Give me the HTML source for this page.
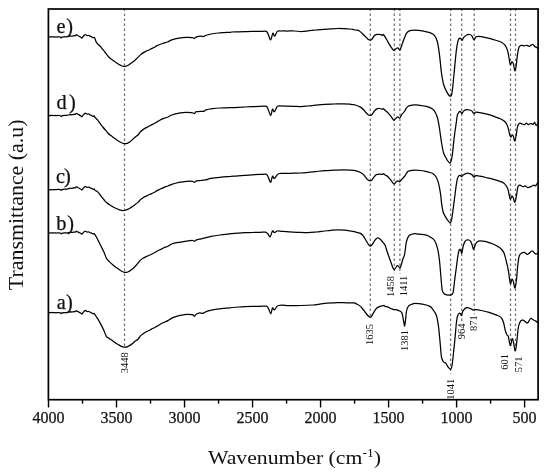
<!DOCTYPE html>
<html><head><meta charset="utf-8"><title>FTIR spectra</title>
<style>
html,body{margin:0;padding:0;background:#fff;}
body{width:550px;height:476px;overflow:hidden;}
svg{display:block;}
text{font-family:"Liberation Serif","Times New Roman",serif;fill:#111;stroke:#111;stroke-width:0.25px;}
text.pk{stroke:none;}
</style></head><body>
<svg width="550" height="476" viewBox="0 0 550 476">
<rect width="550" height="476" fill="#fff"/>
<g stroke="#707070" stroke-width="1.25" stroke-dasharray="2.5 2.5" fill="none">
<line x1="124.5" y1="8.4" x2="124.5" y2="347.5"/>
<line x1="370.3" y1="8.4" x2="370.3" y2="317.0"/>
<line x1="394.3" y1="8.4" x2="394.3" y2="274.0"/>
<line x1="399.9" y1="8.4" x2="399.9" y2="274.0"/>
<line x1="450.6" y1="8.4" x2="450.6" y2="374.0"/>
<line x1="461.7" y1="8.4" x2="461.7" y2="321.0"/>
<line x1="474.2" y1="8.4" x2="474.2" y2="314.5"/>
<line x1="510.5" y1="8.4" x2="510.5" y2="349.0"/>
<line x1="515.5" y1="8.4" x2="515.5" y2="352.5"/>
</g>
<g fill="none" stroke="#000" stroke-width="1.25" stroke-linejoin="round" stroke-linecap="round">
<path d="M48.50,36.90 C48.78,36.92 49.68,37.03 50.20,37.00 C50.72,36.97 51.13,36.70 51.60,36.70 C52.07,36.70 52.52,36.98 53.00,37.00 C53.48,37.02 54.00,36.79 54.50,36.80 C55.00,36.81 55.50,37.04 56.00,37.05 C56.50,37.06 56.95,36.88 57.50,36.85 C58.05,36.83 58.80,36.84 59.30,36.90 C59.80,36.96 60.17,37.03 60.50,37.20 C60.83,37.37 61.00,37.95 61.30,37.90 C61.60,37.85 61.93,37.05 62.30,36.90 C62.67,36.75 63.08,37.03 63.50,37.00 C63.92,36.97 64.38,36.72 64.80,36.70 C65.22,36.68 65.60,36.92 66.00,36.90 C66.40,36.88 66.78,36.68 67.20,36.60 C67.62,36.52 68.13,36.45 68.50,36.40 C68.87,36.35 69.10,36.38 69.40,36.30 C69.70,36.22 69.98,35.92 70.30,35.90 C70.62,35.88 70.98,36.18 71.30,36.20 C71.62,36.22 71.90,36.02 72.20,36.00 C72.50,35.98 72.80,36.17 73.10,36.10 C73.40,36.03 73.63,35.65 74.00,35.60 C74.37,35.55 74.92,35.95 75.30,35.80 C75.68,35.65 75.97,34.78 76.30,34.70 C76.63,34.62 76.98,35.13 77.30,35.30 C77.62,35.47 77.88,35.53 78.20,35.70 C78.52,35.87 78.88,36.12 79.20,36.30 C79.52,36.48 79.80,36.62 80.10,36.80 C80.40,36.98 80.70,37.18 81.00,37.40 C81.30,37.62 81.62,38.15 81.90,38.10 C82.18,38.05 82.43,37.45 82.70,37.10 C82.97,36.75 83.20,36.33 83.50,36.00 C83.80,35.67 84.18,35.35 84.50,35.10 C84.82,34.85 85.08,34.48 85.40,34.50 C85.72,34.52 86.07,35.02 86.40,35.20 C86.73,35.38 87.10,35.57 87.40,35.60 C87.70,35.63 87.93,35.42 88.20,35.40 C88.47,35.38 88.72,35.38 89.00,35.50 C89.28,35.62 89.62,35.93 89.90,36.10 C90.18,36.27 90.45,36.38 90.70,36.50 C90.95,36.62 91.18,36.68 91.40,36.80 C91.62,36.92 91.80,37.08 92.00,37.20 C92.20,37.32 92.40,37.38 92.60,37.50 C92.80,37.62 92.95,37.93 93.20,37.90 C93.45,37.87 93.78,37.13 94.10,37.30 C94.42,37.47 94.75,38.12 95.10,38.90 C95.45,39.68 95.72,41.12 96.20,42.00 C96.68,42.88 97.28,43.45 98.00,44.20 C98.72,44.95 99.75,45.67 100.50,46.50 C101.25,47.33 101.77,48.28 102.50,49.20 C103.23,50.12 103.95,50.80 104.90,52.00 C105.85,53.20 107.22,55.27 108.20,56.40 C109.18,57.53 109.90,58.08 110.80,58.80 C111.70,59.52 112.68,60.05 113.60,60.70 C114.52,61.35 115.38,62.07 116.30,62.70 C117.22,63.33 118.23,64.00 119.10,64.50 C119.97,65.00 120.77,65.38 121.50,65.70 C122.23,66.02 122.88,66.28 123.50,66.40 C124.12,66.52 124.67,66.47 125.20,66.40 C125.73,66.33 125.98,66.32 126.70,66.00 C127.42,65.68 128.58,65.10 129.50,64.50 C130.42,63.90 131.28,63.12 132.20,62.40 C133.12,61.68 134.03,61.03 135.00,60.20 C135.97,59.37 137.05,58.33 138.00,57.40 C138.95,56.47 139.78,55.40 140.70,54.60 C141.62,53.80 142.58,53.18 143.50,52.60 C144.42,52.02 145.30,51.53 146.20,51.10 C147.10,50.67 148.00,50.42 148.90,50.00 C149.80,49.58 150.68,49.05 151.60,48.60 C152.52,48.15 153.48,47.80 154.40,47.30 C155.32,46.80 156.20,46.07 157.10,45.60 C158.00,45.13 158.90,44.85 159.80,44.50 C160.70,44.15 161.58,43.82 162.50,43.50 C163.42,43.18 164.38,42.88 165.30,42.60 C166.22,42.32 166.92,42.27 168.00,41.80 C169.08,41.33 169.95,40.42 171.80,39.80 C173.65,39.18 176.67,38.52 179.10,38.10 C181.53,37.68 184.22,37.38 186.40,37.30 C188.58,37.22 191.03,37.48 192.20,37.60 C193.37,37.72 193.03,37.85 193.40,38.00 C193.77,38.15 194.05,38.58 194.40,38.50 C194.75,38.42 195.15,37.77 195.50,37.50 C195.85,37.23 195.72,37.12 196.50,36.90 C197.28,36.68 198.98,36.27 200.20,36.20 C201.42,36.13 202.95,36.62 203.80,36.50 C204.65,36.38 204.08,35.92 205.30,35.50 C206.52,35.08 208.92,34.42 211.10,34.00 C213.28,33.58 216.25,33.23 218.40,33.00 C220.55,32.77 222.07,32.72 224.00,32.60 C225.93,32.48 228.73,32.40 230.00,32.30 C231.27,32.20 230.27,32.08 231.60,32.00 C232.93,31.92 235.82,31.87 238.00,31.80 C240.18,31.73 242.37,31.67 244.70,31.60 C247.03,31.53 249.45,31.43 252.00,31.40 C254.55,31.37 257.60,31.40 260.00,31.40 C262.40,31.40 264.98,30.78 266.40,31.40 C267.82,32.02 267.78,33.68 268.50,35.10 C269.22,36.52 269.97,40.20 270.70,39.90 C271.43,39.60 272.23,33.92 272.90,33.30 C273.57,32.68 273.97,36.52 274.70,36.20 C275.43,35.88 276.33,32.27 277.30,31.40 C278.27,30.53 278.88,31.07 280.50,31.00 C282.12,30.93 284.67,31.00 287.00,31.00 C289.33,31.00 292.03,30.92 294.50,31.00 C296.97,31.08 299.37,31.55 301.80,31.50 C304.23,31.45 306.73,30.95 309.10,30.70 C311.47,30.45 313.58,30.23 316.00,30.00 C318.42,29.77 321.10,29.50 323.60,29.30 C326.10,29.10 328.57,28.93 331.00,28.80 C333.43,28.67 336.03,28.52 338.20,28.50 C340.37,28.48 342.07,28.62 344.00,28.70 C345.93,28.78 348.30,28.88 349.80,29.00 C351.30,29.12 352.03,29.23 353.00,29.40 C353.97,29.57 354.58,29.78 355.60,30.00 C356.62,30.22 357.38,29.52 359.10,30.70 C360.82,31.88 364.40,35.67 365.90,37.10 C367.40,38.53 367.37,38.80 368.10,39.30 C368.83,39.80 369.67,40.10 370.30,40.10 C370.93,40.10 371.27,39.98 371.90,39.30 C372.53,38.62 373.28,36.82 374.10,36.00 C374.92,35.18 375.68,34.63 376.80,34.40 C377.92,34.17 379.82,34.42 380.80,34.60 C381.78,34.78 382.23,35.50 382.70,35.50 C383.17,35.50 382.97,33.97 383.60,34.60 C384.23,35.23 385.38,37.42 386.50,39.30 C387.62,41.18 389.10,44.07 390.30,45.90 C391.50,47.73 392.77,49.82 393.70,50.30 C394.63,50.78 395.22,49.22 395.90,48.80 C396.58,48.38 397.10,47.65 397.80,47.80 C398.50,47.95 399.32,50.48 400.10,49.70 C400.88,48.92 401.47,45.78 402.50,43.10 C403.53,40.42 405.18,35.65 406.30,33.60 C407.42,31.55 407.78,31.40 409.20,30.80 C410.62,30.20 412.60,30.00 414.80,30.00 C417.00,30.00 419.87,30.35 422.40,30.80 C424.93,31.25 428.03,31.97 430.00,32.70 C431.97,33.43 432.98,33.73 434.20,35.20 C435.42,36.67 436.43,38.35 437.30,41.50 C438.17,44.65 438.70,48.85 439.40,54.10 C440.10,59.35 440.80,67.93 441.50,73.00 C442.20,78.07 442.72,81.35 443.60,84.50 C444.48,87.65 445.75,89.97 446.80,91.90 C447.85,93.83 449.03,95.93 449.90,96.10 C450.77,96.27 451.30,96.75 452.00,92.90 C452.70,89.05 453.35,80.28 454.10,73.00 C454.85,65.72 455.83,54.58 456.50,49.20 C457.17,43.82 457.58,42.55 458.10,40.70 C458.62,38.85 459.08,38.37 459.60,38.10 C460.12,37.83 460.75,38.75 461.20,39.10 C461.65,39.45 461.92,40.45 462.30,40.20 C462.68,39.95 462.78,38.47 463.50,37.60 C464.22,36.73 465.57,35.52 466.60,35.00 C467.63,34.48 468.85,34.40 469.70,34.50 C470.55,34.60 471.00,34.75 471.70,35.60 C472.40,36.45 473.20,39.35 473.90,39.60 C474.60,39.85 475.18,37.63 475.90,37.10 C476.62,36.57 476.53,36.32 478.20,36.40 C479.87,36.48 483.33,37.07 485.90,37.60 C488.47,38.13 491.02,38.83 493.60,39.60 C496.18,40.37 499.47,41.25 501.40,42.20 C503.33,43.15 504.17,43.88 505.20,45.30 C506.23,46.72 506.95,48.50 507.60,50.70 C508.25,52.90 508.65,56.18 509.10,58.50 C509.55,60.82 509.83,64.03 510.30,64.60 C510.77,65.17 511.38,62.02 511.90,61.90 C512.42,61.78 512.92,62.42 513.40,63.90 C513.88,65.38 514.35,70.42 514.80,70.80 C515.25,71.18 515.63,69.03 516.10,66.20 C516.57,63.37 517.10,57.02 517.60,53.80 C518.10,50.58 518.45,48.32 519.10,46.90 C519.75,45.48 520.58,45.48 521.50,45.30 C522.42,45.12 523.70,45.80 524.60,45.80 C525.50,45.80 526.13,45.20 526.90,45.30 C527.67,45.40 528.43,46.47 529.20,46.40 C529.97,46.33 530.85,45.22 531.50,44.90 C532.15,44.58 532.58,44.25 533.10,44.50 C533.62,44.75 533.97,45.88 534.60,46.40 C535.23,46.92 536.28,47.23 536.90,47.60 C537.52,47.97 538.07,48.43 538.30,48.60"/>
<path d="M48.50,115.50 C48.78,115.52 49.68,115.63 50.20,115.60 C50.72,115.57 51.13,115.30 51.60,115.30 C52.07,115.30 52.52,115.58 53.00,115.60 C53.48,115.62 54.00,115.39 54.50,115.40 C55.00,115.41 55.50,115.64 56.00,115.65 C56.50,115.66 56.95,115.48 57.50,115.45 C58.05,115.42 58.80,115.44 59.30,115.50 C59.80,115.56 60.17,115.63 60.50,115.80 C60.83,115.97 61.00,116.55 61.30,116.50 C61.60,116.45 61.93,115.65 62.30,115.50 C62.67,115.35 63.08,115.63 63.50,115.60 C63.92,115.57 64.38,115.32 64.80,115.30 C65.22,115.28 65.60,115.52 66.00,115.50 C66.40,115.48 66.78,115.28 67.20,115.20 C67.62,115.12 68.13,115.05 68.50,115.00 C68.87,114.95 69.10,114.98 69.40,114.90 C69.70,114.82 69.98,114.52 70.30,114.50 C70.62,114.48 70.98,114.78 71.30,114.80 C71.62,114.82 71.90,114.62 72.20,114.60 C72.50,114.58 72.80,114.77 73.10,114.70 C73.40,114.63 73.63,114.25 74.00,114.20 C74.37,114.15 74.92,114.55 75.30,114.40 C75.68,114.25 75.97,113.38 76.30,113.30 C76.63,113.22 76.98,113.73 77.30,113.90 C77.62,114.07 77.88,114.13 78.20,114.30 C78.52,114.47 78.88,114.72 79.20,114.90 C79.52,115.08 79.80,115.22 80.10,115.40 C80.40,115.58 80.70,115.78 81.00,116.00 C81.30,116.22 81.62,116.75 81.90,116.70 C82.18,116.65 82.43,116.05 82.70,115.70 C82.97,115.35 83.20,114.93 83.50,114.60 C83.80,114.27 84.18,113.95 84.50,113.70 C84.82,113.45 85.08,113.08 85.40,113.10 C85.72,113.12 86.07,113.62 86.40,113.80 C86.73,113.98 87.10,114.17 87.40,114.20 C87.70,114.23 87.93,114.02 88.20,114.00 C88.47,113.98 88.72,113.98 89.00,114.10 C89.28,114.22 89.62,114.53 89.90,114.70 C90.18,114.87 90.45,114.98 90.70,115.10 C90.95,115.22 91.18,115.28 91.40,115.40 C91.62,115.52 91.80,115.68 92.00,115.80 C92.20,115.92 92.40,115.98 92.60,116.10 C92.80,116.22 92.95,116.53 93.20,116.50 C93.45,116.47 93.78,115.73 94.10,115.90 C94.42,116.07 94.57,116.88 95.10,117.50 C95.63,118.12 96.40,118.52 97.30,119.60 C98.20,120.68 99.60,122.80 100.50,124.00 C101.40,125.20 101.97,125.88 102.70,126.80 C103.43,127.72 103.98,128.42 104.90,129.50 C105.82,130.58 107.20,132.28 108.20,133.30 C109.20,134.32 110.00,134.88 110.90,135.60 C111.80,136.32 112.70,136.93 113.60,137.60 C114.50,138.27 115.38,138.95 116.30,139.60 C117.22,140.25 118.23,140.97 119.10,141.50 C119.97,142.03 120.68,142.45 121.50,142.80 C122.32,143.15 123.25,143.47 124.00,143.60 C124.75,143.73 125.37,143.68 126.00,143.60 C126.63,143.52 127.13,143.42 127.80,143.10 C128.47,142.78 129.27,142.25 130.00,141.70 C130.73,141.15 131.37,140.55 132.20,139.80 C133.03,139.05 134.03,138.00 135.00,137.20 C135.97,136.40 137.05,135.95 138.00,135.00 C138.95,134.05 139.78,132.45 140.70,131.50 C141.62,130.55 142.58,129.95 143.50,129.30 C144.42,128.65 145.30,128.10 146.20,127.60 C147.10,127.10 148.00,126.75 148.90,126.30 C149.80,125.85 150.68,125.37 151.60,124.90 C152.52,124.43 153.48,124.00 154.40,123.50 C155.32,123.00 156.20,122.43 157.10,121.90 C158.00,121.37 158.90,120.80 159.80,120.30 C160.70,119.80 161.58,119.32 162.50,118.90 C163.42,118.48 164.38,118.12 165.30,117.80 C166.22,117.48 166.92,117.47 168.00,117.00 C169.08,116.53 169.95,115.65 171.80,115.00 C173.65,114.35 176.67,113.53 179.10,113.10 C181.53,112.67 184.22,112.45 186.40,112.40 C188.58,112.35 191.03,112.68 192.20,112.80 C193.37,112.92 193.03,112.97 193.40,113.10 C193.77,113.23 194.05,113.72 194.40,113.60 C194.75,113.48 195.15,112.73 195.50,112.40 C195.85,112.07 195.60,111.78 196.50,111.60 C197.40,111.42 199.68,111.35 200.90,111.30 C202.12,111.25 202.95,111.53 203.80,111.30 C204.65,111.07 204.55,110.33 206.00,109.90 C207.45,109.47 210.20,109.02 212.50,108.70 C214.80,108.38 216.88,108.18 219.80,108.00 C222.72,107.82 228.03,107.65 230.00,107.60 C231.97,107.55 230.27,107.75 231.60,107.70 C232.93,107.65 235.82,107.42 238.00,107.30 C240.18,107.18 242.37,107.10 244.70,107.00 C247.03,106.90 249.45,106.80 252.00,106.70 C254.55,106.60 257.60,106.45 260.00,106.40 C262.40,106.35 264.98,105.75 266.40,106.40 C267.82,107.05 267.78,108.75 268.50,110.30 C269.22,111.85 270.03,115.88 270.70,115.70 C271.37,115.52 271.88,109.85 272.50,109.20 C273.12,108.55 273.60,112.27 274.40,111.80 C275.20,111.33 276.20,107.37 277.30,106.40 C278.40,105.43 279.38,106.03 281.00,106.00 C282.62,105.97 284.90,106.13 287.00,106.20 C289.10,106.27 291.28,106.33 293.60,106.40 C295.92,106.47 298.50,106.67 300.90,106.60 C303.30,106.53 305.57,106.23 308.00,106.00 C310.43,105.77 312.73,105.48 315.50,105.20 C318.27,104.92 321.52,104.50 324.60,104.30 C327.68,104.10 330.85,104.08 334.00,104.00 C337.15,103.92 340.83,103.77 343.50,103.80 C346.17,103.83 348.03,104.00 350.00,104.20 C351.97,104.40 353.55,104.52 355.30,105.00 C357.05,105.48 359.10,106.30 360.50,107.10 C361.90,107.90 362.80,108.90 363.70,109.80 C364.60,110.70 365.17,111.68 365.90,112.50 C366.63,113.32 367.37,114.23 368.10,114.70 C368.83,115.17 369.67,115.30 370.30,115.30 C370.93,115.30 371.27,115.33 371.90,114.70 C372.53,114.07 373.28,112.47 374.10,111.50 C374.92,110.53 375.80,109.40 376.80,108.90 C377.80,108.40 379.18,108.43 380.10,108.50 C381.02,108.57 381.75,109.30 382.30,109.30 C382.85,109.30 383.03,108.42 383.40,108.50 C383.77,108.58 383.78,109.13 384.50,109.80 C385.22,110.47 386.62,111.40 387.70,112.50 C388.78,113.60 390.00,115.12 391.00,116.40 C392.00,117.68 392.97,119.80 393.70,120.20 C394.43,120.60 394.77,119.35 395.40,118.80 C396.03,118.25 396.87,117.03 397.50,116.90 C398.13,116.77 398.73,117.90 399.20,118.00 C399.67,118.10 399.85,118.13 400.30,117.50 C400.75,116.87 401.27,115.12 401.90,114.20 C402.53,113.28 403.37,113.00 404.10,112.00 C404.83,111.00 405.57,109.20 406.30,108.20 C407.03,107.20 407.60,106.50 408.50,106.00 C409.40,105.50 410.62,105.38 411.70,105.20 C412.78,105.02 413.85,104.92 415.00,104.90 C416.15,104.88 417.10,104.92 418.60,105.10 C420.10,105.28 422.10,105.58 424.00,106.00 C425.90,106.42 428.30,106.83 430.00,107.60 C431.70,108.37 432.98,108.98 434.20,110.60 C435.42,112.22 436.43,114.43 437.30,117.30 C438.17,120.17 438.70,123.60 439.40,127.80 C440.10,132.00 440.80,138.30 441.50,142.50 C442.20,146.70 442.72,150.20 443.60,153.00 C444.48,155.80 445.75,157.63 446.80,159.30 C447.85,160.97 449.03,163.35 449.90,163.00 C450.77,162.65 451.30,161.32 452.00,157.20 C452.70,153.08 453.40,143.97 454.10,138.30 C454.80,132.63 455.67,127.00 456.20,123.20 C456.73,119.40 456.85,117.35 457.30,115.50 C457.75,113.65 458.38,112.75 458.90,112.10 C459.42,111.45 459.88,111.35 460.40,111.60 C460.92,111.85 461.48,113.68 462.00,113.60 C462.52,113.52 462.73,111.77 463.50,111.10 C464.27,110.43 465.57,109.78 466.60,109.60 C467.63,109.42 468.80,109.75 469.70,110.00 C470.60,110.25 471.30,110.50 472.00,111.10 C472.70,111.70 473.25,113.43 473.90,113.60 C474.55,113.77 474.93,112.25 475.90,112.10 C476.87,111.95 478.03,112.40 479.70,112.70 C481.37,113.00 483.58,113.32 485.90,113.90 C488.22,114.48 491.02,115.30 493.60,116.20 C496.18,117.10 499.33,118.18 501.40,119.30 C503.47,120.42 504.85,121.35 506.00,122.90 C507.15,124.45 507.65,126.50 508.30,128.60 C508.95,130.70 509.45,134.08 509.90,135.50 C510.35,136.92 510.62,137.22 511.00,137.10 C511.38,136.98 511.80,134.93 512.20,134.80 C512.60,134.67 512.97,135.27 513.40,136.30 C513.83,137.33 514.30,141.38 514.80,141.00 C515.30,140.62 515.93,136.45 516.40,134.00 C516.87,131.55 517.07,128.10 517.60,126.30 C518.13,124.50 518.83,123.58 519.60,123.20 C520.37,122.82 521.37,123.75 522.20,124.00 C523.03,124.25 523.90,124.83 524.60,124.70 C525.30,124.57 525.77,123.20 526.40,123.20 C527.03,123.20 527.68,124.65 528.40,124.70 C529.12,124.75 529.92,123.55 530.70,123.50 C531.48,123.45 532.45,124.58 533.10,124.40 C533.75,124.22 534.10,122.22 534.60,122.40 C535.10,122.58 535.55,125.37 536.10,125.50 C536.65,125.63 537.60,123.58 537.90,123.20"/>
<path d="M48.50,189.80 C48.78,189.81 49.68,189.90 50.20,189.85 C50.72,189.80 51.13,189.52 51.60,189.51 C52.07,189.49 52.52,189.76 53.00,189.76 C53.48,189.77 54.00,189.53 54.50,189.52 C55.00,189.51 55.50,189.73 56.00,189.72 C56.50,189.72 56.95,189.52 57.50,189.48 C58.05,189.44 58.80,189.43 59.30,189.47 C59.80,189.52 60.17,189.58 60.50,189.74 C60.83,189.90 61.00,190.47 61.30,190.41 C61.60,190.36 61.93,189.55 62.30,189.38 C62.67,189.22 63.08,189.49 63.50,189.45 C63.92,189.40 64.38,189.14 64.80,189.11 C65.22,189.08 65.60,189.30 66.00,189.27 C66.40,189.24 66.78,189.03 67.20,188.94 C67.62,188.84 68.13,188.76 68.50,188.70 C68.87,188.64 69.10,188.66 69.40,188.57 C69.70,188.48 69.98,188.17 70.30,188.14 C70.62,188.12 70.98,188.41 71.30,188.41 C71.62,188.42 71.90,188.21 72.20,188.19 C72.50,188.16 72.80,188.34 73.10,188.26 C73.40,188.18 73.63,187.79 74.00,187.73 C74.37,187.67 74.92,188.05 75.30,187.89 C75.68,187.73 75.97,186.86 76.30,186.76 C76.63,186.67 76.98,187.18 77.30,187.33 C77.62,187.49 77.88,187.55 78.20,187.71 C78.52,187.86 78.88,188.10 79.20,188.28 C79.52,188.45 79.80,188.57 80.10,188.75 C80.40,188.92 80.70,189.11 81.00,189.32 C81.30,189.53 81.62,190.05 81.90,189.99 C82.18,189.94 82.43,189.33 82.70,188.97 C82.97,188.61 83.20,188.19 83.50,187.85 C83.80,187.50 84.18,187.18 84.50,186.92 C84.82,186.66 85.08,186.28 85.40,186.29 C85.72,186.30 86.07,186.79 86.40,186.96 C86.73,187.13 87.10,187.30 87.40,187.33 C87.70,187.35 87.93,187.13 88.20,187.10 C88.47,187.08 88.72,187.07 89.00,187.18 C89.28,187.29 89.62,187.60 89.90,187.75 C90.18,187.91 90.45,188.02 90.70,188.13 C90.95,188.24 91.18,188.30 91.40,188.41 C91.62,188.52 91.80,188.68 92.00,188.79 C92.20,188.90 92.40,188.96 92.60,189.07 C92.80,189.18 92.95,189.50 93.20,189.45 C93.45,189.41 93.78,188.67 94.10,188.83 C94.42,188.98 94.63,189.98 95.10,190.40 C95.57,190.81 96.35,190.92 96.90,191.30 C97.45,191.68 97.67,191.85 98.40,192.70 C99.13,193.55 100.33,195.18 101.30,196.40 C102.27,197.62 103.23,198.88 104.20,200.00 C105.17,201.12 106.02,202.18 107.10,203.10 C108.18,204.02 109.37,204.68 110.70,205.50 C112.03,206.32 113.63,207.28 115.10,208.00 C116.57,208.72 118.05,209.38 119.50,209.80 C120.95,210.22 122.35,210.62 123.80,210.50 C125.25,210.38 127.00,209.62 128.20,209.10 C129.40,208.58 130.03,208.02 131.00,207.40 C131.97,206.78 132.83,206.23 134.00,205.40 C135.17,204.57 136.88,203.40 138.00,202.40 C139.12,201.40 139.78,200.22 140.70,199.40 C141.62,198.58 142.58,198.05 143.50,197.50 C144.42,196.95 145.30,196.55 146.20,196.10 C147.10,195.65 148.00,195.22 148.90,194.80 C149.80,194.38 150.68,194.02 151.60,193.60 C152.52,193.18 153.48,192.80 154.40,192.30 C155.32,191.80 156.20,191.10 157.10,190.60 C158.00,190.10 158.90,189.72 159.80,189.30 C160.70,188.88 161.58,188.52 162.50,188.10 C163.42,187.68 164.38,187.15 165.30,186.80 C166.22,186.45 166.92,186.42 168.00,186.00 C169.08,185.58 169.95,184.90 171.80,184.30 C173.65,183.70 176.67,182.90 179.10,182.40 C181.53,181.90 184.22,181.48 186.40,181.30 C188.58,181.12 191.03,181.22 192.20,181.30 C193.37,181.38 193.03,181.62 193.40,181.80 C193.77,181.98 194.05,182.45 194.40,182.40 C194.75,182.35 195.15,181.75 195.50,181.50 C195.85,181.25 195.60,181.07 196.50,180.90 C197.40,180.73 199.43,180.67 200.90,180.50 C202.37,180.33 203.60,180.25 205.30,179.90 C207.00,179.55 208.68,178.83 211.10,178.40 C213.52,177.97 216.65,177.62 219.80,177.30 C222.95,176.98 228.03,176.65 230.00,176.50 C231.97,176.35 230.27,176.52 231.60,176.40 C232.93,176.28 235.82,175.98 238.00,175.80 C240.18,175.62 242.37,175.47 244.70,175.30 C247.03,175.13 249.45,174.95 252.00,174.80 C254.55,174.65 257.60,174.47 260.00,174.40 C262.40,174.33 264.98,173.82 266.40,174.40 C267.82,174.98 267.78,176.58 268.50,177.90 C269.22,179.22 270.03,182.58 270.70,182.30 C271.37,182.02 271.88,176.85 272.50,176.20 C273.12,175.55 273.40,178.82 274.40,178.40 C275.40,177.98 276.73,174.53 278.50,173.70 C280.27,172.87 282.48,173.48 285.00,173.40 C287.52,173.32 290.95,173.27 293.60,173.20 C296.25,173.13 298.50,173.13 300.90,173.00 C303.30,172.87 305.57,172.63 308.00,172.40 C310.43,172.17 312.73,171.90 315.50,171.60 C318.27,171.30 321.52,170.83 324.60,170.60 C327.68,170.37 330.85,170.32 334.00,170.20 C337.15,170.08 340.83,169.92 343.50,169.90 C346.17,169.88 348.03,169.98 350.00,170.10 C351.97,170.22 353.55,170.20 355.30,170.60 C357.05,171.00 359.18,171.87 360.50,172.50 C361.82,173.13 362.30,173.55 363.20,174.40 C364.10,175.25 365.08,176.65 365.90,177.60 C366.72,178.55 367.37,179.55 368.10,180.10 C368.83,180.65 369.67,180.90 370.30,180.90 C370.93,180.90 371.27,180.77 371.90,180.10 C372.53,179.43 373.37,177.82 374.10,176.90 C374.83,175.98 375.30,175.07 376.30,174.60 C377.30,174.13 379.10,174.13 380.10,174.10 C381.10,174.07 381.72,174.48 382.30,174.40 C382.88,174.32 383.15,173.52 383.60,173.60 C384.05,173.68 384.32,174.42 385.00,174.90 C385.68,175.38 386.70,175.58 387.70,176.50 C388.70,177.42 389.93,179.15 391.00,180.40 C392.07,181.65 393.28,183.73 394.10,184.00 C394.92,184.27 395.23,182.52 395.90,182.00 C396.57,181.48 397.47,180.95 398.10,180.90 C398.73,180.85 398.90,182.15 399.70,181.70 C400.50,181.25 402.00,179.22 402.90,178.20 C403.80,177.18 404.37,176.63 405.10,175.60 C405.83,174.57 406.57,172.78 407.30,172.00 C408.03,171.22 408.30,171.20 409.50,170.90 C410.70,170.60 412.68,170.27 414.50,170.20 C416.32,170.13 418.57,170.32 420.40,170.50 C422.23,170.68 423.90,170.97 425.50,171.30 C427.10,171.63 428.68,172.07 430.00,172.50 C431.32,172.93 432.37,173.10 433.40,173.90 C434.43,174.70 435.40,175.93 436.20,177.30 C437.00,178.67 437.63,180.27 438.20,182.10 C438.77,183.93 439.18,186.13 439.60,188.30 C440.02,190.47 440.37,192.60 440.70,195.10 C441.03,197.60 441.22,200.57 441.60,203.30 C441.98,206.03 442.53,209.57 443.00,211.50 C443.47,213.43 443.83,213.75 444.40,214.90 C444.97,216.05 445.72,217.37 446.40,218.40 C447.08,219.43 447.87,220.32 448.50,221.10 C449.13,221.88 449.68,223.33 450.20,223.10 C450.72,222.87 451.13,221.87 451.60,219.70 C452.07,217.53 452.50,213.75 453.00,210.10 C453.50,206.45 454.10,201.67 454.60,197.80 C455.10,193.93 455.53,190.08 456.00,186.90 C456.47,183.72 456.95,180.53 457.40,178.70 C457.85,176.87 458.25,176.47 458.70,175.90 C459.15,175.33 459.63,175.18 460.10,175.30 C460.57,175.42 460.93,176.70 461.50,176.60 C462.07,176.50 462.65,175.25 463.50,174.70 C464.35,174.15 465.57,173.48 466.60,173.30 C467.63,173.12 468.80,173.37 469.70,173.60 C470.60,173.83 471.30,174.12 472.00,174.70 C472.70,175.28 473.25,176.95 473.90,177.10 C474.55,177.25 474.93,175.75 475.90,175.60 C476.87,175.45 478.03,175.88 479.70,176.20 C481.37,176.52 483.58,176.98 485.90,177.50 C488.22,178.02 491.28,178.67 493.60,179.30 C495.92,179.93 497.98,180.58 499.80,181.30 C501.62,182.02 503.20,182.43 504.50,183.60 C505.80,184.77 506.83,186.48 507.60,188.30 C508.37,190.12 508.65,192.70 509.10,194.50 C509.55,196.30 509.83,198.85 510.30,199.10 C510.77,199.35 511.38,196.13 511.90,196.00 C512.42,195.87 512.92,197.27 513.40,198.30 C513.88,199.33 514.30,202.58 514.80,202.20 C515.30,201.82 515.88,198.58 516.40,196.00 C516.92,193.42 517.32,188.50 517.90,186.70 C518.48,184.90 519.05,185.20 519.90,185.20 C520.75,185.20 522.10,186.58 523.00,186.70 C523.90,186.82 524.53,185.77 525.30,185.90 C526.07,186.03 526.70,187.37 527.60,187.50 C528.50,187.63 529.67,187.08 530.70,186.70 C531.73,186.32 533.02,185.33 533.80,185.20 C534.58,185.07 534.77,186.28 535.40,185.90 C536.03,185.52 537.23,183.40 537.60,182.90"/>
<path d="M48.50,232.90 C48.78,232.92 49.68,233.02 50.20,233.00 C50.72,232.97 51.13,232.75 51.60,232.75 C52.07,232.75 52.52,233.00 53.00,233.01 C53.48,233.03 54.00,232.84 54.50,232.85 C55.00,232.86 55.50,233.07 56.00,233.08 C56.50,233.09 56.95,232.93 57.50,232.92 C58.05,232.90 58.80,232.92 59.30,232.97 C59.80,233.02 60.17,233.09 60.50,233.23 C60.83,233.38 61.00,233.87 61.30,233.83 C61.60,233.79 61.93,233.11 62.30,232.99 C62.67,232.86 63.08,233.11 63.50,233.08 C63.92,233.06 64.38,232.85 64.80,232.84 C65.22,232.82 65.60,233.02 66.00,233.01 C66.40,233.00 66.78,232.83 67.20,232.77 C67.62,232.70 68.13,232.64 68.50,232.60 C68.87,232.56 69.10,232.59 69.40,232.52 C69.70,232.46 69.98,232.20 70.30,232.19 C70.62,232.18 70.98,232.44 71.30,232.45 C71.62,232.47 71.90,232.30 72.20,232.29 C72.50,232.28 72.80,232.43 73.10,232.38 C73.40,232.32 73.63,232.00 74.00,231.96 C74.37,231.92 74.92,232.26 75.30,232.14 C75.68,232.01 75.97,231.28 76.30,231.21 C76.63,231.14 76.98,231.58 77.30,231.73 C77.62,231.87 77.88,231.93 78.20,232.07 C78.52,232.22 78.88,232.43 79.20,232.59 C79.52,232.75 79.80,232.86 80.10,233.02 C80.40,233.18 80.70,233.35 81.00,233.53 C81.30,233.72 81.62,234.18 81.90,234.14 C82.18,234.09 82.43,233.59 82.70,233.29 C82.97,232.99 83.20,232.64 83.50,232.36 C83.80,232.08 84.18,231.81 84.50,231.60 C84.82,231.39 85.08,231.08 85.40,231.10 C85.72,231.11 86.07,231.54 86.40,231.70 C86.73,231.86 87.10,232.02 87.40,232.05 C87.70,232.08 87.93,231.89 88.20,231.88 C88.47,231.87 88.72,231.87 89.00,231.97 C89.28,232.07 89.62,232.34 89.90,232.49 C90.18,232.63 90.45,232.73 90.70,232.83 C90.95,232.93 91.18,232.99 91.40,233.09 C91.62,233.19 91.80,233.34 92.00,233.44 C92.20,233.54 92.40,233.59 92.60,233.69 C92.80,233.79 92.95,234.07 93.20,234.04 C93.45,234.01 93.78,233.39 94.10,233.53 C94.42,233.68 94.57,234.04 95.10,234.90 C95.63,235.76 96.40,236.97 97.30,238.70 C98.20,240.43 99.42,243.12 100.50,245.30 C101.58,247.48 102.80,249.62 103.80,251.80 C104.80,253.98 105.58,256.77 106.50,258.40 C107.42,260.03 108.12,260.42 109.30,261.60 C110.48,262.78 112.43,264.50 113.60,265.50 C114.77,266.50 115.38,266.93 116.30,267.60 C117.22,268.27 118.18,268.90 119.10,269.50 C120.02,270.10 120.90,270.73 121.80,271.20 C122.70,271.67 123.68,272.12 124.50,272.30 C125.32,272.48 125.97,272.43 126.70,272.30 C127.43,272.17 128.18,271.87 128.90,271.50 C129.62,271.13 130.27,270.65 131.00,270.10 C131.73,269.55 132.55,268.88 133.30,268.20 C134.05,267.52 134.72,266.83 135.50,266.00 C136.28,265.17 137.13,264.22 138.00,263.20 C138.87,262.18 139.78,260.77 140.70,259.90 C141.62,259.03 142.58,258.55 143.50,258.00 C144.42,257.45 145.30,257.02 146.20,256.60 C147.10,256.18 148.00,255.88 148.90,255.50 C149.80,255.12 150.68,254.75 151.60,254.30 C152.52,253.85 153.48,253.32 154.40,252.80 C155.32,252.28 156.20,251.70 157.10,251.20 C158.00,250.70 158.90,250.25 159.80,249.80 C160.70,249.35 161.58,248.95 162.50,248.50 C163.42,248.05 164.38,247.47 165.30,247.10 C166.22,246.73 166.92,246.82 168.00,246.30 C169.08,245.78 169.95,244.67 171.80,244.00 C173.65,243.33 176.67,242.78 179.10,242.30 C181.53,241.82 184.22,241.42 186.40,241.10 C188.58,240.78 191.03,240.45 192.20,240.40 C193.37,240.35 193.03,240.63 193.40,240.80 C193.77,240.97 194.05,241.45 194.40,241.40 C194.75,241.35 195.15,240.75 195.50,240.50 C195.85,240.25 195.60,240.17 196.50,239.90 C197.40,239.63 199.43,239.23 200.90,238.90 C202.37,238.57 203.60,238.32 205.30,237.90 C207.00,237.48 208.68,236.88 211.10,236.40 C213.52,235.92 216.65,235.43 219.80,235.00 C222.95,234.57 228.03,234.03 230.00,233.80 C231.97,233.57 230.27,233.72 231.60,233.60 C232.93,233.48 235.82,233.25 238.00,233.10 C240.18,232.95 242.37,232.80 244.70,232.70 C247.03,232.60 249.45,232.57 252.00,232.50 C254.55,232.43 257.75,232.35 260.00,232.30 C262.25,232.25 264.20,231.95 265.50,232.20 C266.80,232.45 267.02,233.05 267.80,233.80 C268.58,234.55 269.42,237.17 270.20,236.70 C270.98,236.23 271.80,231.68 272.50,231.00 C273.20,230.32 273.60,232.60 274.40,232.60 C275.20,232.60 276.03,231.20 277.30,231.00 C278.57,230.80 280.03,231.25 282.00,231.40 C283.97,231.55 286.43,231.75 289.10,231.90 C291.77,232.05 294.85,232.18 298.00,232.30 C301.15,232.42 305.00,232.65 308.00,232.60 C311.00,232.55 313.23,232.27 316.00,232.00 C318.77,231.73 322.10,231.28 324.60,231.00 C327.10,230.72 328.65,230.50 331.00,230.30 C333.35,230.10 336.37,229.82 338.70,229.80 C341.03,229.78 343.02,230.00 345.00,230.20 C346.98,230.40 349.10,230.77 350.60,231.00 C352.10,231.23 352.82,231.33 354.00,231.60 C355.18,231.87 356.62,232.30 357.70,232.60 C358.78,232.90 359.58,232.87 360.50,233.40 C361.42,233.93 362.30,234.67 363.20,235.80 C364.10,236.93 365.08,238.83 365.90,240.20 C366.72,241.57 367.37,243.00 368.10,244.00 C368.83,245.00 369.62,246.12 370.30,246.20 C370.98,246.28 371.48,245.42 372.20,244.50 C372.92,243.58 373.83,241.75 374.60,240.70 C375.37,239.65 376.07,238.62 376.80,238.20 C377.53,237.78 378.27,237.87 379.00,238.20 C379.73,238.53 380.47,239.42 381.20,240.20 C381.93,240.98 382.77,242.08 383.40,242.90 C384.03,243.72 384.28,243.37 385.00,245.10 C385.72,246.83 386.70,250.40 387.70,253.30 C388.70,256.20 390.08,259.97 391.00,262.50 C391.92,265.03 392.65,267.32 393.20,268.50 C393.75,269.68 393.85,269.77 394.30,269.60 C394.75,269.43 395.37,268.22 395.90,267.50 C396.43,266.78 396.87,265.22 397.50,265.30 C398.13,265.38 399.15,267.82 399.70,268.00 C400.25,268.18 400.25,267.95 400.80,266.40 C401.35,264.85 402.37,260.70 403.00,258.70 C403.63,256.70 404.05,257.12 404.60,254.40 C405.15,251.68 405.65,245.40 406.30,242.40 C406.95,239.40 407.60,237.77 408.50,236.40 C409.40,235.03 410.62,234.67 411.70,234.20 C412.78,233.73 413.85,233.60 415.00,233.60 C416.15,233.60 416.73,233.95 418.60,234.20 C420.47,234.45 424.15,234.57 426.20,235.10 C428.25,235.63 429.48,236.45 430.90,237.40 C432.32,238.35 433.60,238.97 434.70,240.80 C435.80,242.63 436.72,245.25 437.50,248.40 C438.28,251.55 438.83,254.98 439.40,259.70 C439.97,264.42 440.43,271.65 440.90,276.70 C441.37,281.75 441.67,287.17 442.20,290.00 C442.73,292.83 443.33,292.88 444.10,293.70 C444.87,294.52 445.65,294.70 446.80,294.90 C447.95,295.10 449.95,295.32 451.00,294.90 C452.05,294.48 452.47,295.08 453.10,292.40 C453.73,289.72 454.28,282.77 454.80,278.80 C455.32,274.83 455.70,272.35 456.20,268.60 C456.70,264.85 457.28,259.43 457.80,256.30 C458.32,253.17 458.82,250.83 459.30,249.80 C459.78,248.77 460.28,249.53 460.70,250.10 C461.12,250.67 461.42,253.72 461.80,253.20 C462.18,252.68 462.53,248.85 463.00,247.00 C463.47,245.15 464.00,243.27 464.60,242.10 C465.20,240.93 465.88,240.35 466.60,240.00 C467.32,239.65 468.20,239.73 468.90,240.00 C469.60,240.27 470.23,240.68 470.80,241.60 C471.37,242.52 471.85,244.22 472.30,245.50 C472.75,246.78 473.08,249.18 473.50,249.30 C473.92,249.42 474.28,247.35 474.80,246.20 C475.32,245.05 475.78,243.30 476.60,242.40 C477.42,241.50 478.15,240.93 479.70,240.80 C481.25,240.67 483.58,241.03 485.90,241.60 C488.22,242.17 491.28,243.17 493.60,244.20 C495.92,245.23 498.12,246.43 499.80,247.80 C501.48,249.17 502.67,250.35 503.70,252.40 C504.73,254.45 505.23,257.13 506.00,260.10 C506.77,263.07 507.58,266.33 508.30,270.20 C509.02,274.07 509.70,281.80 510.30,283.30 C510.90,284.80 511.38,279.45 511.90,279.20 C512.42,278.95 512.88,280.33 513.40,281.80 C513.92,283.27 514.48,288.38 515.00,288.00 C515.52,287.62 516.07,282.98 516.50,279.50 C516.93,276.02 517.17,270.97 517.60,267.10 C518.03,263.23 518.45,258.62 519.10,256.30 C519.75,253.98 520.58,253.85 521.50,253.20 C522.42,252.55 523.70,252.20 524.60,252.40 C525.50,252.60 526.13,254.27 526.90,254.40 C527.67,254.53 528.30,253.78 529.20,253.20 C530.10,252.62 531.40,250.90 532.30,250.90 C533.20,250.90 533.97,252.68 534.60,253.20 C535.23,253.72 535.50,254.05 536.10,254.00 C536.70,253.95 537.85,253.08 538.20,252.90"/>
<path d="M48.50,312.60 C48.78,312.62 49.68,312.74 50.20,312.71 C50.72,312.68 51.13,312.42 51.60,312.42 C52.07,312.42 52.52,312.71 53.00,312.73 C53.48,312.75 54.00,312.53 54.50,312.54 C55.00,312.55 55.50,312.79 56.00,312.80 C56.50,312.81 56.95,312.63 57.50,312.61 C58.05,312.59 58.80,312.61 59.30,312.67 C59.80,312.73 60.17,312.81 60.50,312.98 C60.83,313.15 61.00,313.73 61.30,313.68 C61.60,313.63 61.93,312.84 62.30,312.69 C62.67,312.54 63.08,312.83 63.50,312.80 C63.92,312.77 64.38,312.52 64.80,312.51 C65.22,312.49 65.60,312.73 66.00,312.71 C66.40,312.70 66.78,312.50 67.20,312.42 C67.62,312.34 68.13,312.28 68.50,312.23 C68.87,312.18 69.10,312.22 69.40,312.13 C69.70,312.05 69.98,311.76 70.30,311.74 C70.62,311.73 70.98,312.03 71.30,312.05 C71.62,312.07 71.90,311.87 72.20,311.85 C72.50,311.84 72.80,312.02 73.10,311.96 C73.40,311.89 73.63,311.51 74.00,311.46 C74.37,311.42 74.92,311.82 75.30,311.67 C75.68,311.53 75.97,310.66 76.30,310.58 C76.63,310.50 76.98,311.02 77.30,311.19 C77.62,311.35 77.88,311.42 78.20,311.59 C78.52,311.76 78.88,312.01 79.20,312.20 C79.52,312.38 79.80,312.52 80.10,312.70 C80.40,312.89 80.70,313.09 81.00,313.31 C81.30,313.53 81.62,314.06 81.90,314.02 C82.18,313.97 82.43,313.37 82.70,313.02 C82.97,312.67 83.20,312.26 83.50,311.93 C83.80,311.59 84.18,311.28 84.50,311.03 C84.82,310.78 85.08,310.42 85.40,310.44 C85.72,310.46 86.07,310.96 86.40,311.14 C86.73,311.33 87.10,311.52 87.40,311.55 C87.70,311.59 87.93,311.37 88.20,311.36 C88.47,311.34 88.72,311.34 89.00,311.46 C89.28,311.58 89.62,311.90 89.90,312.07 C90.18,312.24 90.45,312.35 90.70,312.47 C90.95,312.59 91.18,312.66 91.40,312.78 C91.62,312.89 91.80,313.06 92.00,313.18 C92.20,313.30 92.40,313.37 92.60,313.48 C92.80,313.60 92.95,313.92 93.20,313.89 C93.45,313.86 93.78,313.13 94.10,313.29 C94.42,313.46 94.57,314.08 95.10,314.90 C95.63,315.72 96.40,316.75 97.30,318.20 C98.20,319.65 99.42,321.60 100.50,323.60 C101.58,325.60 102.80,328.02 103.80,330.20 C104.80,332.38 105.58,335.33 106.50,336.70 C107.42,338.07 108.12,337.58 109.30,338.40 C110.48,339.22 112.43,340.77 113.60,341.60 C114.77,342.43 115.38,342.82 116.30,343.40 C117.22,343.98 118.23,344.62 119.10,345.10 C119.97,345.58 120.68,345.97 121.50,346.30 C122.32,346.63 123.25,346.97 124.00,347.10 C124.75,347.23 125.37,347.20 126.00,347.10 C126.63,347.00 127.13,346.78 127.80,346.50 C128.47,346.22 129.27,345.85 130.00,345.40 C130.73,344.95 131.37,344.48 132.20,343.80 C133.03,343.12 134.03,342.07 135.00,341.30 C135.97,340.53 137.05,340.15 138.00,339.20 C138.95,338.25 139.78,336.55 140.70,335.60 C141.62,334.65 142.58,334.13 143.50,333.50 C144.42,332.87 145.30,332.30 146.20,331.80 C147.10,331.30 148.00,330.95 148.90,330.50 C149.80,330.05 150.68,329.57 151.60,329.10 C152.52,328.63 153.48,328.20 154.40,327.70 C155.32,327.20 156.20,326.63 157.10,326.10 C158.00,325.57 158.90,325.02 159.80,324.50 C160.70,323.98 161.58,323.47 162.50,323.00 C163.42,322.53 164.38,322.10 165.30,321.70 C166.22,321.30 166.92,321.20 168.00,320.60 C169.08,320.00 169.95,318.92 171.80,318.10 C173.65,317.28 176.67,316.33 179.10,315.70 C181.53,315.07 184.22,314.47 186.40,314.30 C188.58,314.13 191.03,314.52 192.20,314.70 C193.37,314.88 193.03,315.15 193.40,315.40 C193.77,315.65 194.05,316.27 194.40,316.20 C194.75,316.13 195.15,315.37 195.50,315.00 C195.85,314.63 195.83,314.37 196.50,314.00 C197.17,313.63 198.52,312.92 199.50,312.80 C200.48,312.68 201.57,313.35 202.40,313.30 C203.23,313.25 203.65,312.87 204.50,312.50 C205.35,312.13 205.92,311.58 207.50,311.10 C209.08,310.62 211.70,310.02 214.00,309.60 C216.30,309.18 218.63,308.88 221.30,308.60 C223.97,308.32 228.28,308.08 230.00,307.90 C231.72,307.72 230.27,307.65 231.60,307.50 C232.93,307.35 235.82,307.15 238.00,307.00 C240.18,306.85 242.37,306.70 244.70,306.60 C247.03,306.50 249.45,306.45 252.00,306.40 C254.55,306.35 257.60,306.33 260.00,306.30 C262.40,306.27 264.98,305.85 266.40,306.20 C267.82,306.55 267.78,307.13 268.50,308.40 C269.22,309.67 270.03,313.88 270.70,313.80 C271.37,313.72 271.88,308.55 272.50,307.90 C273.12,307.25 273.40,310.30 274.40,309.90 C275.40,309.50 276.07,306.23 278.50,305.50 C280.93,304.77 285.27,305.50 289.00,305.50 C292.73,305.50 296.95,305.58 300.90,305.50 C304.85,305.42 309.52,305.23 312.70,305.00 C315.88,304.77 317.63,304.42 320.00,304.10 C322.37,303.78 324.40,303.32 326.90,303.10 C329.40,302.88 332.23,302.88 335.00,302.80 C337.77,302.72 341.17,302.58 343.50,302.60 C345.83,302.62 347.13,302.85 349.00,302.90 C350.87,302.95 353.70,302.82 354.70,302.90 C355.70,302.98 354.58,303.18 355.00,303.40 C355.42,303.62 356.28,303.70 357.20,304.20 C358.12,304.70 359.42,305.40 360.50,306.40 C361.58,307.40 362.70,308.93 363.70,310.20 C364.70,311.47 365.68,313.00 366.50,314.00 C367.32,315.00 367.97,315.65 368.60,316.20 C369.23,316.75 369.75,317.40 370.30,317.30 C370.85,317.20 371.27,316.52 371.90,315.60 C372.53,314.68 373.28,313.07 374.10,311.80 C374.92,310.53 375.80,308.90 376.80,308.00 C377.80,307.10 379.10,306.77 380.10,306.40 C381.10,306.03 382.17,305.98 382.80,305.80 C383.43,305.62 383.53,305.20 383.90,305.30 C384.27,305.40 384.37,306.13 385.00,306.40 C385.63,306.67 386.95,306.65 387.70,306.90 C388.45,307.15 388.95,307.63 389.50,307.90 C390.05,308.17 390.30,308.22 391.00,308.50 C391.70,308.78 392.88,309.42 393.70,309.60 C394.52,309.78 395.17,309.47 395.90,309.60 C396.63,309.73 397.37,310.12 398.10,310.40 C398.83,310.68 399.67,310.88 400.30,311.30 C400.93,311.72 401.45,311.82 401.90,312.90 C402.35,313.98 402.63,315.98 403.00,317.80 C403.37,319.62 403.83,322.43 404.10,323.80 C404.37,325.17 404.38,326.45 404.60,326.00 C404.82,325.55 405.12,323.37 405.40,321.10 C405.68,318.83 405.97,314.58 406.30,312.40 C406.63,310.22 406.87,309.18 407.40,308.00 C407.93,306.82 408.60,305.98 409.50,305.30 C410.40,304.62 411.88,304.22 412.80,303.90 C413.72,303.58 413.40,303.35 415.00,303.40 C416.60,303.45 419.90,303.70 422.40,304.20 C424.90,304.70 428.22,305.45 430.00,306.40 C431.78,307.35 432.05,308.43 433.10,309.90 C434.15,311.37 435.42,312.57 436.30,315.20 C437.18,317.83 437.77,321.15 438.40,325.70 C439.03,330.25 439.58,337.25 440.10,342.50 C440.62,347.75 440.92,353.95 441.50,357.20 C442.08,360.45 442.90,361.03 443.60,362.00 C444.30,362.97 445.00,362.23 445.70,363.00 C446.40,363.77 447.02,365.55 447.80,366.60 C448.58,367.65 449.70,369.47 450.40,369.30 C451.10,369.13 451.48,368.32 452.00,365.60 C452.52,362.88 452.97,357.90 453.50,353.00 C454.03,348.10 454.75,340.92 455.20,336.20 C455.65,331.48 455.85,327.90 456.20,324.70 C456.55,321.50 456.85,318.85 457.30,317.00 C457.75,315.15 458.38,314.17 458.90,313.60 C459.42,313.03 459.97,313.28 460.40,313.60 C460.83,313.92 461.12,315.83 461.50,315.50 C461.88,315.17 462.23,312.63 462.70,311.60 C463.17,310.57 463.65,309.95 464.30,309.30 C464.95,308.65 465.83,307.92 466.60,307.70 C467.37,307.48 468.13,307.78 468.90,308.00 C469.67,308.22 470.43,308.67 471.20,309.00 C471.97,309.33 472.72,309.90 473.50,310.00 C474.28,310.10 474.60,309.52 475.90,309.60 C477.20,309.68 479.12,310.03 481.30,310.50 C483.48,310.97 486.43,311.63 489.00,312.40 C491.57,313.17 494.63,314.20 496.70,315.10 C498.77,316.00 500.23,316.45 501.40,317.80 C502.57,319.15 503.07,321.15 503.70,323.20 C504.33,325.25 504.68,328.17 505.20,330.10 C505.72,332.03 506.28,333.77 506.80,334.80 C507.32,335.83 507.72,334.50 508.30,336.30 C508.88,338.10 509.65,345.22 510.30,345.60 C510.95,345.98 511.63,338.98 512.20,338.60 C512.77,338.22 513.18,341.23 513.70,343.30 C514.22,345.37 514.78,351.27 515.30,351.00 C515.82,350.73 516.28,345.70 516.80,341.70 C517.32,337.70 517.75,330.47 518.40,327.00 C519.05,323.53 519.93,322.05 520.70,320.90 C521.47,319.75 522.23,319.98 523.00,320.10 C523.77,320.22 524.53,321.13 525.30,321.60 C526.07,322.07 526.70,323.42 527.60,322.90 C528.50,322.38 529.78,319.02 530.70,318.50 C531.62,317.98 532.32,319.40 533.10,319.80 C533.88,320.20 534.55,320.38 535.40,320.90 C536.25,321.42 537.73,322.57 538.20,322.90"/>
</g>
<rect x="48.4" y="9.0" width="489.7" height="390.7" fill="none" stroke="#000" stroke-width="1.7"/>
<g stroke="#000" stroke-width="1.4">
<line x1="48.50" y1="399.7" x2="48.50" y2="407.5"/>
<line x1="82.51" y1="399.7" x2="82.51" y2="403.7"/>
<line x1="116.52" y1="399.7" x2="116.52" y2="407.5"/>
<line x1="150.52" y1="399.7" x2="150.52" y2="403.7"/>
<line x1="184.53" y1="399.7" x2="184.53" y2="407.5"/>
<line x1="218.54" y1="399.7" x2="218.54" y2="403.7"/>
<line x1="252.55" y1="399.7" x2="252.55" y2="407.5"/>
<line x1="286.55" y1="399.7" x2="286.55" y2="403.7"/>
<line x1="320.56" y1="399.7" x2="320.56" y2="407.5"/>
<line x1="354.57" y1="399.7" x2="354.57" y2="403.7"/>
<line x1="388.58" y1="399.7" x2="388.58" y2="407.5"/>
<line x1="422.58" y1="399.7" x2="422.58" y2="403.7"/>
<line x1="456.59" y1="399.7" x2="456.59" y2="407.5"/>
<line x1="490.60" y1="399.7" x2="490.60" y2="403.7"/>
<line x1="524.61" y1="399.7" x2="524.61" y2="407.5"/>
</g>
<g font-size="16" text-anchor="middle">
<text x="48.50" y="423.2">4000</text>
<text x="116.52" y="423.2">3500</text>
<text x="184.53" y="423.2">3000</text>
<text x="252.55" y="423.2">2500</text>
<text x="320.56" y="423.2">2000</text>
<text x="388.58" y="423.2">1500</text>
<text x="456.59" y="423.2">1000</text>
<text x="524.61" y="423.2">500</text>
</g>
<text class="pk" transform="translate(294.40,463.6) scale(1.126,1)" font-size="19.3" text-anchor="middle">Wavenumber (cm<tspan font-size="12" dy="-7">-1</tspan><tspan dy="7">)</tspan></text>
<text class="pk" transform="translate(23.20,204.80) rotate(-90) scale(1.095,1)" font-size="20.0" text-anchor="middle">Transmittance (a.u)</text>
<text x="56.6" y="32.9" font-size="20.3">e</text>
<text x="66.2" y="32.9" font-size="20.3">)</text>
<text x="56.6" y="109.2" font-size="20.3">d</text>
<text x="69.1" y="109.2" font-size="20.3">)</text>
<text x="56.0" y="183.1" font-size="20.3">c</text>
<text x="64.0" y="183.1" font-size="20.3">)</text>
<text x="56.2" y="229.6" font-size="20.3">b</text>
<text x="67.2" y="229.6" font-size="20.3">)</text>
<text x="56.8" y="309.0" font-size="20.3">a</text>
<text x="65.9" y="309.0" font-size="20.3">)</text>
<g font-size="10.5" text-anchor="middle">
<text class="pk" transform="translate(128.1,362.8) rotate(-90)">3448</text>
<text class="pk" transform="translate(373.2,334.4) rotate(-90)">1635</text>
<text class="pk" transform="translate(393.6,286.4) rotate(-90)">1458</text>
<text class="pk" transform="translate(406.5,286.0) rotate(-90)">1411</text>
<text class="pk" transform="translate(407.6,340.4) rotate(-90)">1381</text>
<text class="pk" transform="translate(453.5,389.2) rotate(-90)">1041</text>
<text class="pk" transform="translate(464.5,331.3) rotate(-90)">964</text>
<text class="pk" transform="translate(477.1,323.2) rotate(-90)">871</text>
<text class="pk" transform="translate(508.1,361.8) rotate(-90)">601</text>
<text class="pk" transform="translate(522.3,364.3) rotate(-90)">571</text>
</g>
</svg>
</body></html>
